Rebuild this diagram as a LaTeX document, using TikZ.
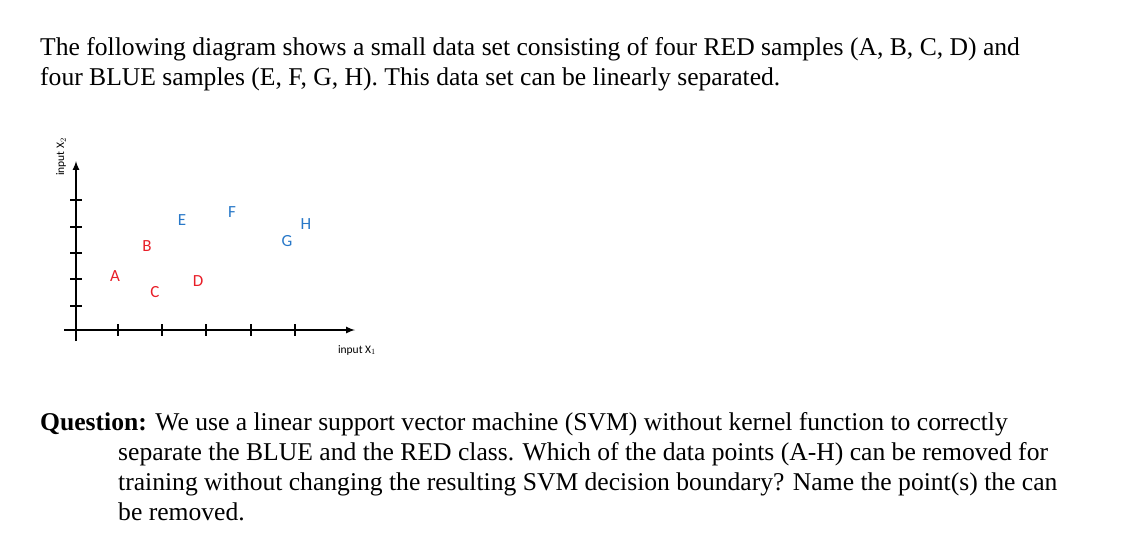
\documentclass[tikz,border=0pt]{standalone}
\usepackage{fontspec}
\setmainfont{Liberation Serif}
\newfontfamily\calib{Carlito}
\begin{document}
\begin{tikzpicture}[x=1pt,y=-1pt,
  txt/.style={anchor=base west,inner sep=0pt,font=\fontsize{25.6}{30}\selectfont},
  red/.style={text=redc,font=\calib\fontsize{17}{17}\selectfont},
  blue/.style={text=bluec,font=\calib\fontsize{17}{17}\selectfont},
  ax/.style={line width=2pt,-latex},
  tk/.style={line width=1.3pt}]
\definecolor{redc}{RGB}{232,30,40}
\definecolor{bluec}{RGB}{40,120,200}
\useasboundingbox (0,0) rectangle (1124,536);
\node[txt] (l1) at (40,55) {The following diagram shows a small data set consisting of four RED samples (A, B, C, D) and};
\node[txt] (l2) at (40,85) {four BLUE samples (E, F, G, H). This data set can be linearly separated.};
\node[txt] (q1) at (40,430) {\textbf{Question:} We use a linear support vector machine (SVM) without kernel function to correctly};
\node[txt] (q2) at (118,460) {separate the BLUE and the RED class. Which of the data points (A-H) can be removed for};
\node[txt] (q3) at (118,490) {training without changing the resulting SVM decision boundary? Name the point(s) the can};
\node[txt] (q4) at (118,520) {be removed.};
\coordinate (o1) at (64,330); \coordinate (xe) at (355,330);
\coordinate (o2) at (76,341); \coordinate (ye) at (76,161);
\draw[ax] (o1) -- (xe);
\draw[ax] (o2) -- (ye);
\foreach \x in {118,162,206,251,295} \draw[tk] (\x,324) -- (\x,336);
\foreach \y in {306,279,253,227,200} \draw[tk] (70,\y) -- (82,\y);
\node[red] (A) at (115,276) {A};
\node[red] (B) at (147,246) {B};
\node[red] (C) at (155,292) {C};
\node[red] (D) at (198,281) {D};
\node[blue] (E) at (182,220) {E};
\node[blue] (F) at (232,212) {F};
\node[blue] (G) at (287,241) {G};
\node[blue] (H) at (306,224) {H};
\node[font=\calib\fontsize{11.5}{11.5}\selectfont] (x1) at (357,350) {input X$_1$};
\node[font=\calib\fontsize{11.5}{11.5}\selectfont,rotate=90] (x2) at (61,157) {input X$_2$};
\end{tikzpicture}
\end{document}
